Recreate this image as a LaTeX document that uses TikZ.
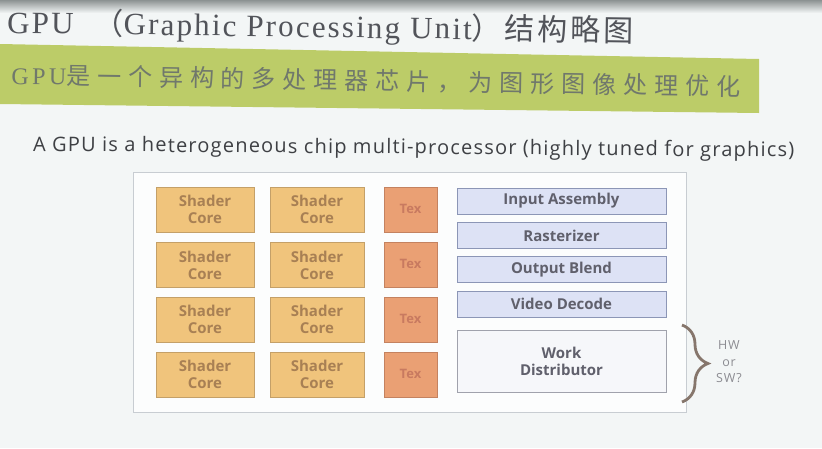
\documentclass[tikz,border=0pt]{standalone}
\usepackage{fontspec}
\setmainfont{Liberation Serif}
\newfontfamily\titlefont[LetterSpace=7]{Liberation Serif}
\newfontfamily\cjk[LetterSpace=10]{Noto Sans CJK SC}
\newfontfamily\cjkwide[LetterSpace=29]{Noto Sans CJK SC}
\newfontfamily\bandlatin[LetterSpace=14]{Liberation Serif}
\newfontfamily\myriad{Open Sans}
\newfontfamily\myriadwide[LetterSpace=6]{Open Sans}
\usetikzlibrary{positioning, decorations.pathreplacing}

\definecolor{slidebg}{RGB}{243,246,246}
\definecolor{topbar}{RGB}{140,146,146}
\definecolor{titlegray}{RGB}{82,84,90}
\definecolor{bandgreen}{RGB}{188,204,104}
\definecolor{bandtext}{RGB}{112,120,108}
\definecolor{subgray}{RGB}{62,64,68}
\definecolor{chipline}{RGB}{200,205,210}
\definecolor{chipfill}{RGB}{252,253,253}
\definecolor{shaderfill}{RGB}{240,196,124}
\definecolor{shaderline}{RGB}{196,160,104}
\definecolor{shadertext}{RGB}{168,128,84}
\definecolor{texfill}{RGB}{234,160,116}
\definecolor{texline}{RGB}{196,130,96}
\definecolor{textext}{RGB}{200,122,96}
\definecolor{stagefill}{RGB}{221,226,245}
\definecolor{stageline}{RGB}{140,150,182}
\definecolor{stagetext}{RGB}{96,96,108}
\definecolor{wdfill}{RGB}{246,247,250}
\definecolor{wdline}{RGB}{160,162,172}
\definecolor{bracecol}{RGB}{134,118,108}
\definecolor{hwgray}{RGB}{140,140,146}

\tikzset{
  shader/.style={draw=shaderline, fill=shaderfill, line width=0.8pt, minimum height=45pt,
    inner sep=0pt, align=center, text=shadertext, font=\myriad\bfseries\fontsize{15}{17}\selectfont},
  texbox/.style={draw=texline, fill=texfill, line width=0.8pt, minimum width=53pt, minimum height=45pt,
    inner sep=0pt, text=textext, font=\myriad\bfseries\fontsize{13}{15}\selectfont},
  stage/.style={draw=stageline, fill=stagefill, line width=0.8pt, minimum width=209pt, minimum height=26pt,
    inner sep=0pt, align=center, text=stagetext, font=\myriad\bfseries\fontsize{15}{17}\selectfont},
  bracket/.style={decorate, decoration={brace, amplitude=26pt}, line width=2.8pt, draw=bracecol}
}

\begin{document}
\begin{tikzpicture}[x=1pt, y=-1pt]
\useasboundingbox (0,0) rectangle (822,448);
\fill[slidebg] (0,0) rectangle (822,448);
\shade[top color=topbar, bottom color=slidebg] (0,0) rectangle (822,13);

% title and green band (the slide is a little tilted)
\node[anchor=base west, inner sep=0pt, text=titlegray, rotate=-0.8] (title) at (7,33)
  {\titlefont\fontsize{31}{31}\selectfont GPU\hspace{20pt}{\cjk\fontsize{30}{30}\selectfont （}Graphic Processing Unit{\cjk\fontsize{30}{30}\selectfont ）结构略图}};
\fill[bandgreen] (0,44) -- (759,59) -- (759,113) -- (0,104) -- cycle;
\node[inner sep=0pt, text=bandtext, rotate=-0.9] (band) at (376,81)
  {\fontsize{24}{24}\selectfont{\bandlatin GPU}\cjkwide 是一个异构的多处理器芯片，为图形图像处理优化};
\node[anchor=base west, inner sep=0pt, text=subgray, rotate=-0.45] (sub) at (33,151)
  {\myriadwide\fontsize{20}{22}\selectfont A GPU is a heterogeneous chip multi-processor (highly tuned for graphics)};

% chip
\node[draw=chipline, fill=chipfill, line width=0.8pt, anchor=north west, minimum width=553pt,
  minimum height=240pt, inner sep=0pt] (chip) at (133,172) {};

\foreach \r/\y in {1/209.5,2/265,3/319.5,4/374.5}{
  \node[shader, minimum width=98pt] (sa\r) at (205,\y) {Shader\\Core};
  \node[shader, minimum width=94pt] (sb\r) at (317,\y) {Shader\\Core};
  \node[texbox] (tex\r) at (410.5,\y) {\raisebox{2pt}{Tex}};
}

\node[stage] (input) at (561.5,201) {Input Assembly};
\node[stage] (raster) at (561.5,235.5) {Rasterizer};
\node[stage] (blend) at (561.5,269.5) {Output Blend};
\node[stage] (video) at (561.5,304) {Video Decode};
\node[stage, fill=wdfill, draw=wdline, minimum height=62pt] (work) at (561.5,361) {Work\\Distributor};

% HW or SW
\coordinate (bt) at (682,325);
\coordinate (bb) at (682,402);
\draw[bracket] (bt) -- (bb);
\node[align=center, text=hwgray, font=\myriadwide\fontsize{12.5}{16.5}\selectfont] (hw) at (729,362) {HW\\or\\SW?};
\end{tikzpicture}
\end{document}
